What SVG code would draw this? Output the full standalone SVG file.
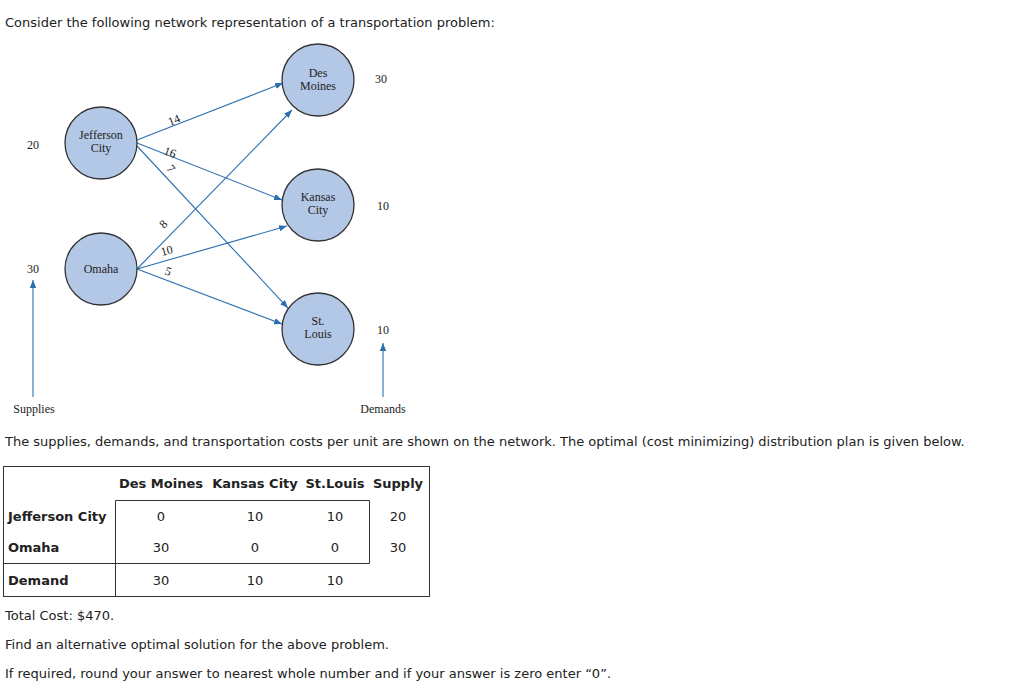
<svg xmlns="http://www.w3.org/2000/svg" width="1024" height="691" viewBox="0 0 1024 691">
<style>
.p{font-family:"DejaVu Sans",Verdana,sans-serif;font-size:13px;fill:#222}
.b{font-weight:bold}
.s{font-family:"Liberation Serif","Times New Roman",serif;font-size:12px;fill:#222}
.n{fill:#b3c8e6;stroke:#333;stroke-width:1.3}
.e{stroke:#2a6fae;stroke-width:1.1;fill:none;marker-end:url(#a)}
.t{stroke:#333;stroke-width:1;fill:none}
</style>
<defs><marker id="a" viewBox="0 0 10 10" refX="10" refY="5" markerWidth="8" markerHeight="8" orient="auto" markerUnits="userSpaceOnUse"><path d="M0,1 L10,5 L0,9 z" fill="#2a6fae"/></marker></defs>
<rect width="1024" height="691" fill="#fff"/>
<text class="p" x="5" y="27">Consider the following network representation of a transportation problem:</text>
<g id="edges">
<line class="e" x1="137" y1="140" x2="283" y2="83"/>
<line class="e" x1="137" y1="143" x2="282" y2="200"/>
<line class="e" x1="137" y1="146" x2="288" y2="308"/>
<line class="e" x1="137" y1="269" x2="292" y2="110"/>
<line class="e" x1="137" y1="269" x2="287" y2="226"/>
<line class="e" x1="137" y1="269" x2="282" y2="324"/>
<line class="e" x1="33" y1="397" x2="33" y2="280"/>
<line class="e" x1="383" y1="397" x2="383" y2="343"/>
</g>
<g class="s">
<text x="170" y="126" transform="rotate(-22 170 126)">14</text>
<text x="163" y="154" transform="rotate(20 163 154)">16</text>
<text x="166" y="169" transform="rotate(50 166 169)">7</text>
<text x="164" y="229" transform="rotate(-45 164 229)">8</text>
<text x="162" y="256" transform="rotate(-15 162 256)">10</text>
<text x="164" y="274" transform="rotate(20 164 274)">5</text>
</g>
<g id="jc"><circle class="n" cx="101" cy="143" r="36"/><text class="s" x="101" y="139" text-anchor="middle">Jefferson</text><text class="s" x="101" y="152" text-anchor="middle">City</text></g>
<g id="om"><circle class="n" cx="101" cy="269" r="36"/><text class="s" x="101" y="273" text-anchor="middle">Omaha</text></g>
<g id="dm"><circle class="n" cx="318" cy="80" r="36"/><text class="s" x="318" y="77" text-anchor="middle">Des</text><text class="s" x="318" y="90" text-anchor="middle">Moines</text></g>
<g id="kc"><circle class="n" cx="318" cy="205" r="36"/><text class="s" x="318" y="201" text-anchor="middle">Kansas</text><text class="s" x="318" y="214" text-anchor="middle">City</text></g>
<g id="sl"><circle class="n" cx="318" cy="329" r="36"/><text class="s" x="318" y="325" text-anchor="middle">St.</text><text class="s" x="318" y="338" text-anchor="middle">Louis</text></g>
<g class="s" text-anchor="middle">
<text x="33" y="149">20</text><text x="33" y="273">30</text>
<text x="381" y="83">30</text><text x="383" y="210">10</text><text x="383" y="334">10</text>
<text x="34" y="413">Supplies</text><text x="383" y="413">Demands</text>
</g>
<text class="p" x="5" y="446">The supplies, demands, and transportation costs per unit are shown on the network. The optimal (cost minimizing) distribution plan is given below.</text>
<g id="table">
<rect class="t" x="3.5" y="466.5" width="426" height="130"/>
<path class="t" d="M115.5,597 V500.5 H369.5 V563.5 H3.5"/>
<g class="p b" text-anchor="middle">
<text x="161" y="488">Des Moines</text><text x="255" y="488">Kansas City</text><text x="335" y="488">St.Louis</text><text x="398" y="488">Supply</text>
</g>
<g class="p b"><text x="8" y="521">Jefferson City</text><text x="8" y="552">Omaha</text><text x="8" y="585">Demand</text></g>
<g class="p" text-anchor="middle">
<text x="161" y="521">0</text><text x="255" y="521">10</text><text x="335" y="521">10</text><text x="398" y="521">20</text>
<text x="161" y="552">30</text><text x="255" y="552">0</text><text x="335" y="552">0</text><text x="398" y="552">30</text>
<text x="161" y="585">30</text><text x="255" y="585">10</text><text x="335" y="585">10</text>
</g>
</g>
<text class="p" x="5" y="620">Total Cost: $470.</text>
<text class="p" x="5" y="649">Find an alternative optimal solution for the above problem.</text>
<text class="p" x="5" y="678">If required, round your answer to nearest whole number and if your answer is zero enter “0”.</text>
</svg>
